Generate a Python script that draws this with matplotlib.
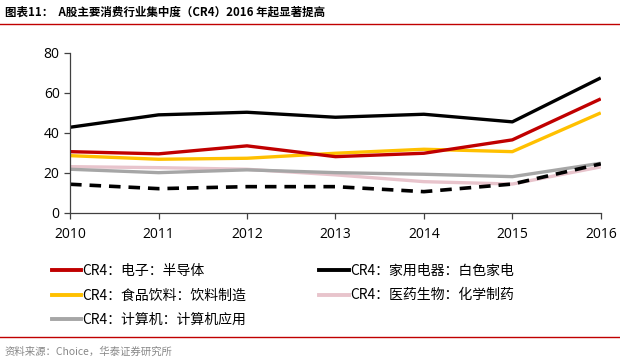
import matplotlib
matplotlib.use("Agg")
import matplotlib.pyplot as plt
from matplotlib.lines import Line2D

plt.rcParams['font.family'] = ['Noto Sans CJK SC', 'DejaVu Sans']

years = [2010, 2011, 2012, 2013, 2014, 2015, 2016]
semiconductor = [30.6, 29.5, 33.5, 28.1, 29.8, 36.5, 57.0]
white_goods = [42.8, 49.0, 50.3, 47.8, 49.3, 45.5, 67.5]
beverage = [28.6, 26.8, 27.3, 29.8, 31.8, 30.6, 50.0]
chem_pharma = [23.1, 22.6, 21.8, 19.0, 15.6, 14.4, 23.0]
software = [21.8, 20.1, 21.5, 20.1, 19.3, 18.1, 24.8]
dashed_series = [14.3, 12.1, 13.1, 13.1, 10.6, 14.4, 24.5]

labels = ["CR4：电子：半导体", "CR4：家用电器：白色家电",
          "CR4：食品饮料：饮料制造", "CR4：医药生物：化学制药",
          "CR4：计算机：计算机应用"]
title = "图表11：  A股主要消费行业集中度（CR4）2016 年起显著提高"
source = "资料来源：Choice，华泰证券研究所"
yticks = [0, 20, 40, 60, 80]

colors = ['#C00000', '#000000', '#FFC000', '#E8C4CC', '#A6A6A6']

fig = plt.figure(figsize=(6.2, 3.62), dpi=100)
ax = fig.add_axes([0.113, 0.412, 0.856, 0.442])

lw = 2.4
for s, c in zip([chem_pharma, software, beverage, semiconductor, white_goods],
                [colors[3], colors[4], colors[2], colors[0], colors[1]]):
    ax.plot(years, s, color=c, lw=lw, solid_capstyle='butt')
ax.plot(years, dashed_series, color='black', lw=2.6, ls=(0, (3.2, 2.2)))

ax.set_xlim(2010, 2016)
ax.set_ylim(0, 80)
ax.set_xticks(years)
ax.set_yticks(yticks)
for sp in ['top', 'right']:
    ax.spines[sp].set_visible(False)
for sp in ['left', 'bottom']:
    ax.spines[sp].set_color('#404040')
    ax.spines[sp].set_linewidth(0.9)
ax.tick_params(axis='both', colors='#404040', labelcolor='black', length=4,
               width=0.9, labelsize=10)
ax.tick_params(axis='x', pad=6)
for t in ax.get_xticklabels() + ax.get_yticklabels():
    t.set_fontfamily(['Open Sans', 'DejaVu Sans'])

# legend filled column-first: reorder so rows read as in the reference
order = [0, 2, 4, 1, 3]
handles = [Line2D([0], [0], color=colors[i], lw=2.8) for i in order]
fig.legend(handles, [labels[i] for i in order], ncol=2, loc='upper left',
           bbox_to_anchor=(0.084, 0.272), frameon=False, fontsize=10,
           handlelength=2.1, handletextpad=0.1, columnspacing=5.25,
           labelspacing=0.78, borderaxespad=0, borderpad=0)

fig.text(0.008, 0.967, title, fontsize=8.3, fontweight='bold', va='center',
         ha='left')
fig.add_artist(Line2D([0, 1], [0.934, 0.934], color='#C00000', lw=1.0,
                      transform=fig.transFigure))
fig.add_artist(Line2D([0, 1], [0.069, 0.069], color='#C00000', lw=1.0,
                      transform=fig.transFigure))
fig.text(0.008, 0.028, source, fontsize=7.5, color='#888888', va='center',
         ha='left')

fig.savefig('out.png', dpi=100)
